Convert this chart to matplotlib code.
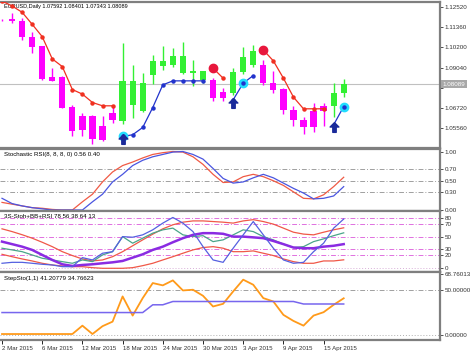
import matplotlib
matplotlib.use("Agg")
import matplotlib.pyplot as plt
from matplotlib.path import Path

nan = float("nan")

# ---- data (bar 0 = 2 Mar 2015 ... bar 34 = 17 Apr 2015) ----
date_ticks = [0, 4, 8, 12, 16, 20, 24, 28, 32]
date_labels = ['2 Mar 2015', '6 Mar 2015', '12 Mar 2015', '18 Mar 2015', '24 Mar 2015',
               '30 Mar 2015', '3 Apr 2015', '9 Apr 2015', '15 Apr 2015']

opens = [1.1180, 1.11831, 1.11734, 1.10781, 1.10281, 1.08519, 1.08519, 1.06797, 1.06223, 1.06223,
         1.05689, 1.06396, 1.05936, 1.06912, 1.06550, 1.08617, 1.09133, 1.09191, 1.08714, 1.08714,
         1.08330, 1.08330, 1.07658, 1.07601, 1.08806, 1.09191, 1.09191, 1.08140, 1.07796, 1.06568,
         1.05994, 1.06550, 1.06837, 1.06837, 1.07592]
highs = [1.1185, 1.12175, 1.11871, 1.11102, 1.10300, 1.09036, 1.08550, 1.06895, 1.06418, 1.06321,
         1.06223, 1.06912, 1.10436, 1.09191, 1.08749, 1.09765, 1.10281, 1.10149, 1.10528, 1.09478,
         1.08850, 1.08427, 1.07871, 1.09001, 1.10241, 1.10339, 1.09478, 1.08864, 1.07853, 1.06837,
         1.06189, 1.06992, 1.06992, 1.08175, 1.08401]
lows = [1.1172, 1.11601, 1.10626, 1.09862, 1.08350, 1.08250, 1.06700, 1.05115, 1.05077, 1.04658,
        1.04788, 1.05862, 1.05804, 1.06131, 1.06500, 1.08114, 1.08904, 1.09093, 1.08674, 1.07985,
        1.08140, 1.07142, 1.07142, 1.07469, 1.08674, 1.09059, 1.08043, 1.07601, 1.06378, 1.05649,
        1.05230, 1.05328, 1.05689, 1.06189, 1.07343]
closes = [1.1175, 1.11716, 1.10781, 1.10241, 1.08387, 1.08272, 1.06740, 1.05402, 1.05460, 1.04926,
          1.04847, 1.06017, 1.08290, 1.08290, 1.08175, 1.09438, 1.09438, 1.09707, 1.09707, 1.08846,
          1.08846, 1.07279, 1.07279, 1.08806, 1.09633, 1.09994, 1.08140, 1.07756, 1.06568, 1.05994,
          1.05615, 1.05615, 1.06511, 1.07601, 1.08089]

red_stop = [1.12864, 1.12577, 1.12216, 1.11527, 1.10815, 1.09535, 1.09093, 1.07773, 1.07509, 1.07027,
            1.06837, 1.06837, nan, nan, nan, nan, nan, nan, nan, nan,
            nan, 1.09001, 1.08427, nan, nan, nan, 1.10052, 1.09420, 1.08427, 1.07337,
            1.06665, 1.06665, 1.06665, nan, nan]
blue_stop = [nan, nan, nan, nan, nan, nan, nan, nan, nan, nan,
             nan, nan, 1.05075, 1.05173, 1.05592, 1.06740, 1.08043, 1.08272, 1.08272, 1.08272,
             1.08272, nan, nan, 1.07182, 1.08140, 1.08577, nan, nan, nan, nan,
             nan, nan, nan, 1.05747, 1.06797]
up_arrow_bars = [12, 23, 33]
up_arrow_prices = [1.0494, 1.0701, 1.0563]
cyan_bars = [12, 24, 34]
cyan_prices = [1.05075, 1.08140, 1.06797]
red_dot_bars = [21, 26]
red_dot_prices = [1.09001, 1.10052]
last_price = 1.08089
price_ticks = [1.12520, 1.11360, 1.10200, 1.09040, 1.07880, 1.06720, 1.05560]

stoch_rsi_main = [0.13, 0.10, 0.07, 0.04, 0.03, 0.01, 0.0, 0.0, 0.14, 0.27,
                  0.48, 0.65, 0.76, 0.82, 0.89, 0.95, 0.98, 1.0, 0.99, 0.91,
                  0.78, 0.61, 0.47, 0.48, 0.57, 0.61, 0.57, 0.50, 0.42, 0.31,
                  0.20, 0.19, 0.26, 0.40, 0.56]
stoch_rsi_signal = [0.20, 0.11, 0.07, 0.04, 0.02, 0.0, 0.0, 0.0, 0.0, 0.14,
                    0.27, 0.48, 0.61, 0.76, 0.85, 0.91, 0.95, 0.99, 1.0, 0.95,
                    0.87, 0.71, 0.54, 0.46, 0.48, 0.55, 0.61, 0.55, 0.46, 0.37,
                    0.29, 0.19, 0.20, 0.24, 0.40]

s3_stoch = [7.5, 9.0, 9.0, 7.5, 5.9, 4.8, 2.1, 2.1, 16.5, 12.8,
            23.5, 26.0, 50.0, 49.0, 52.8, 60.8, 71.5, 80.5, 71.5, 58.0,
            34.0, 12.8, 9.0, 31.5, 52.8, 74.0, 52.8, 31.5, 12.8, 7.5,
            9.0, 26.0, 39.5, 63.5, 78.0]
s3_rsi = [31.5, 28.8, 26.0, 20.8, 15.5, 12.8, 10.1, 7.5, 12.8, 10.1,
          20.8, 26.0, 50.0, 39.5, 47.5, 55.5, 60.8, 63.5, 52.8, 50.0,
          51.5, 42.0, 44.8, 52.8, 60.8, 58.0, 50.0, 44.8, 38.0, 32.6,
          34.0, 42.0, 46.4, 51.5, 56.0]
s3_mid = [42.0, 38.0, 34.0, 28.8, 20.8, 12.8, 5.9, 3.2, 4.8, 5.9,
          7.5, 9.0, 11.2, 16.5, 21.8, 28.8, 34.0, 41.0, 47.5, 52.8,
          55.5, 55.5, 54.5, 50.0, 50.0, 48.8, 47.5, 43.0, 38.0, 32.6,
          31.5, 31.5, 34.0, 35.4, 38.0]
s3_upper = [62.4, 58.0, 53.0, 47.5, 41.0, 34.0, 26.0, 19.8, 14.4, 11.2,
            12.8, 18.0, 26.0, 35.4, 44.8, 53.9, 62.4, 68.8, 73.0, 75.0,
            75.0, 74.0, 73.0, 71.5, 75.0, 77.0, 74.0, 69.9, 63.5, 57.0,
            54.0, 52.8, 57.0, 60.8, 64.0]
s3_lower = [21.8, 18.0, 14.4, 11.2, 7.5, 4.8, 3.2, 2.1, 2.1, 0.5,
            -0.5, -0.5, -0.5, 0.5, 3.7, 7.5, 12.8, 18.0, 23.5, 28.8,
            32.6, 34.0, 31.5, 26.0, 26.0, 27.2, 23.5, 19.8, 14.4, 10.1,
            7.5, 7.5, 11.2, 11.2, 13.0]

step_fast = [1.1, 1.1, 1.1, 1.1, 1.1, 1.1, 1.1, 1.1, 10.5, 1.1,
             9.9, 15.0, 43.3, 21.8, 41.4, 58.3, 55.7, 61.3, 50.0, 50.8,
             44.0, 32.0, 35.0, 48.9, 62.1, 56.4, 41.4, 37.6, 22.6, 15.8,
             10.5, 21.8, 25.6, 33.9, 41.2]
step_slow = [25.2, 25.2, 25.2, 25.2, 25.2, 25.2, 25.2, 25.2, 25.2, 25.2,
             25.2, 25.2, 25.2, 25.2, 25.2, 33.9, 33.9, 37.6, 37.6, 37.6,
             37.6, 37.6, 37.6, 37.6, 37.6, 37.6, 37.6, 37.6, 37.6, 37.6,
             34.8, 34.8, 34.8, 34.8, 34.8]

bars = list(range(len(opens)))

plt.rcParams['font.family'] = ['Liberation Sans Narrow', 'Liberation Sans', 'DejaVu Sans']
TITLE_FS = 4.4
TICK_FS = 4.5

# ---- layout (pixel rows of each pane, chart area ends at x=440) ----
W, H = 474, 353
RIGHT = 440
fig = plt.figure(figsize=(W / 100, H / 100), dpi=100)
fig.patch.set_facecolor('white')


def pane(y0, y1):
    ax = fig.add_axes([0, 1 - y1 / H, RIGHT / W, (y1 - y0) / H])
    ax.set_xlim(-0.2, (RIGHT - 2) / 10.05)
    ax.set_xticks([])
    for side in ['top', 'bottom', 'right']:
        ax.spines[side].set_color('#7f7f7f')
        ax.spines[side].set_linewidth(1.6)
    ax.spines['left'].set_visible(False)
    ax.yaxis.tick_right()
    ax.tick_params(axis='y', length=2.5, width=0.6, pad=1.0, labelsize=TICK_FS, colors='#333333')
    return ax


ax1 = pane(2, 148)
ax2 = pane(149, 211)
ax3 = pane(211, 272)
ax4 = pane(272, 340)

# ---- price pane ----
for i in bars:
    col = '#33f033' if closes[i] >= opens[i] else '#ff00ff'
    ax1.vlines(i, lows[i], highs[i], color=col, linewidth=1.0, zorder=2)
    lo = min(opens[i], closes[i])
    h = max(abs(closes[i] - opens[i]), 0.00025)
    ax1.bar(i, h, bottom=lo, width=0.62, color=col, linewidth=0, zorder=3)

ax1.axhline(last_price, color='#c0c0c0', linewidth=0.8, zorder=1)
ax1.plot(bars, red_stop, color='#f03020', linewidth=0.9, marker='o', markersize=2.2, zorder=4)
ax1.plot(bars, blue_stop, color='#2233cc', linewidth=0.9, marker='o', markersize=2.2, zorder=4)
ax1.plot(red_dot_bars, red_dot_prices, 'o', color='#e8173c', markersize=6, zorder=5)
ax1.plot(cyan_bars, cyan_prices, 'o', color='#22ddff', markersize=6, zorder=4)
ax1.plot(cyan_bars, cyan_prices, 'o', color='#2233cc', markersize=2.2, zorder=5)
arrow = Path([(0, 1), (-0.9, 0.1), (-0.35, 0.1), (-0.35, -1), (0.35, -1), (0.35, 0.1), (0.9, 0.1), (0, 1)],
             [Path.MOVETO] + [Path.LINETO] * 6 + [Path.CLOSEPOLY])
ax1.plot(up_arrow_bars, up_arrow_prices, linestyle='none', marker=arrow, markersize=7,
         color='#1a2a9a', zorder=6)

ax1.set_ylim(1.04411, 1.12807)
ax1.set_yticks(price_ticks)
# the 1.07880 label sits under the last-price box
ax1.set_yticklabels(['' if abs(p - 1.07880) < 1e-6 else f'{p:.5f}' for p in price_ticks])
ax1.annotate(f'{last_price:.5f}', xy=(1.0, last_price), xycoords=('axes fraction', 'data'),
             xytext=(2, 0), textcoords='offset points', va='center', ha='left', fontsize=TICK_FS,
             color='white', bbox=dict(boxstyle='square,pad=0.25', fc='#a8a8a8', ec='none'),
             annotation_clip=False, zorder=10)
ax1.text(0.008, 0.985, 'EURUSD,Daily 1.07592 1.08401 1.07343 1.08089', transform=ax1.transAxes,
         ha='left', va='top', fontsize=4.0, color='black')

# ---- Stochastic RSI pane ----
dashdot = (0, (5, 2, 1, 2))
for lv in [0.7, 0.5, 0.3]:
    ax2.axhline(lv, color='#a0a0a0', linewidth=0.7, linestyle=dashdot)
ax2.plot(bars, stoch_rsi_main, color='#f05a45', linewidth=0.9)
ax2.plot(bars, stoch_rsi_signal, color='#4a55e0', linewidth=0.9)
ax2.set_ylim(-0.017, 1.043)
ax2.set_yticks([1.0, 0.7, 0.5, 0.3, 0.0])
ax2.set_yticklabels(['1.00', '0.70', '0.50', '0.30', '0.00'])
ax2.text(0.008, 0.95, 'Stochastic RSI(8, 8, 8, 0) 0.56 0.40', transform=ax2.transAxes,
         ha='left', va='top', fontsize=TITLE_FS, color='black')

# ---- 3S-Stoh+BB+RSI pane ----
for lv in [80, 70, 50, 30, 20]:
    ax3.axhline(lv, color='#e070e0', linewidth=0.7, linestyle=dashdot)
ax3.axhline(0, color='#d8b0d8', linewidth=0.7, linestyle=(0, (1, 2)))
ax3.plot(bars, s3_upper, color='#f05848', linewidth=0.9)
ax3.plot(bars, s3_lower, color='#f05848', linewidth=0.9)
ax3.plot(bars, s3_rsi, color='#4aa58a', linewidth=0.9)
ax3.plot(bars, s3_mid, color='#8a2be2', linewidth=1.8)
ax3.plot(bars, s3_stoch, color='#5560e0', linewidth=0.9)
ax3.set_ylim(-6.4, 90.8)
ax3.set_yticks([80, 70, 50, 30, 20, 0])
ax3.set_yticklabels(['80', '70', '50', '30', '20', '0'])
ax3.text(0.008, 0.95, '3S-Stoh+BB+RSI 78 56 38 64 13', transform=ax3.transAxes,
         ha='left', va='top', fontsize=TITLE_FS, color='black')

# ---- StepSto pane ----
ax4.axhline(50, color='#a0a0a0', linewidth=0.7, linestyle=dashdot)
ax4.axhline(0, color='#b0b0b0', linewidth=0.7, linestyle=(0, (1, 2)))
ax4.plot(bars, step_fast, color='#ff9a1a', linewidth=1.3)
ax4.plot(bars, step_slow, color='#7766ee', linewidth=1.1)
ax4.set_ylim(-5.6, 70.7)
ax4.set_yticks([68.76013, 50.0, 0.0])
ax4.set_yticklabels(['68.76013', '50.00000', '0.00000'])
ax4.text(0.008, 0.94, 'StepSto(1,1) 41.20779 34.76623', transform=ax4.transAxes,
         ha='left', va='top', fontsize=TITLE_FS, color='black')

ax4.set_xticks(date_ticks)
ax4.set_xticklabels(date_labels, fontsize=TITLE_FS, ha='left', color='#333333')
ax4.tick_params(axis='x', length=3, width=0.6, pad=1.0)

fig.savefig('out.png', dpi=100, facecolor='white')
